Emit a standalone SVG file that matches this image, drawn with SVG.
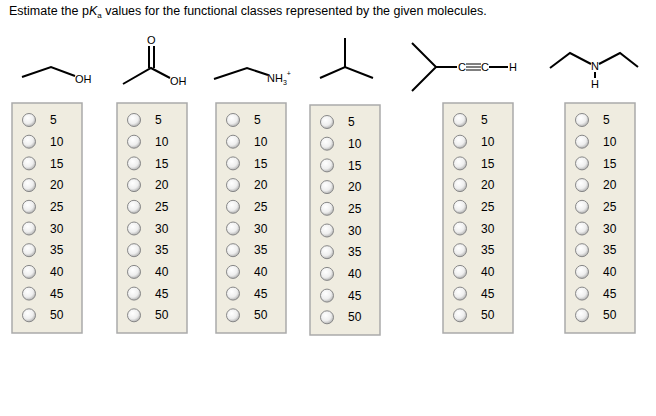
<svg xmlns="http://www.w3.org/2000/svg" width="656" height="416" viewBox="0 0 656 416">
<style>
text{font-family:"Liberation Sans",Arial,sans-serif;fill:#000}
.t{font-size:12px}
.m{font-size:11px}
.b{stroke:#000;stroke-width:2;fill:none}
.box{fill:#efece0;stroke:#aaa;stroke-width:1.5}
.r{fill:url(#rg);stroke:#888;stroke-width:1}
</style>
<defs>
<radialGradient id="rg" cx="0.4" cy="0.35" r="0.7"><stop offset="0" stop-color="#fff"/><stop offset="0.6" stop-color="#eee"/><stop offset="1" stop-color="#aaa"/></radialGradient>
<g id="col">
<rect class="box" x="0" y="0" width="70" height="230"/>
<circle class="r" cx="17" cy="17" r="6.5"/><text class="t" x="38" y="21">5</text>
<circle class="r" cx="17" cy="38.7" r="6.5"/><text class="t" x="38" y="43">10</text>
<circle class="r" cx="17" cy="60.4" r="6.5"/><text class="t" x="38" y="65">15</text>
<circle class="r" cx="17" cy="82.1" r="6.5"/><text class="t" x="38" y="86">20</text>
<circle class="r" cx="17" cy="103.8" r="6.5"/><text class="t" x="38" y="108">25</text>
<circle class="r" cx="17" cy="125.5" r="6.5"/><text class="t" x="38" y="130">30</text>
<circle class="r" cx="17" cy="147.2" r="6.5"/><text class="t" x="38" y="151">35</text>
<circle class="r" cx="17" cy="168.9" r="6.5"/><text class="t" x="38" y="173">40</text>
<circle class="r" cx="17" cy="190.6" r="6.5"/><text class="t" x="38" y="195">45</text>
<circle class="r" cx="17" cy="212.3" r="6.5"/><text class="t" x="38" y="216">50</text>
</g>
</defs>
<text x="9" y="15" style="font-size:12.5px">Estimate the p<tspan font-style="italic">K</tspan><tspan font-size="8" dy="3">a</tspan><tspan dy="-3"> values for the functional classes represented by the given molecules.</tspan></text>
<g id="m1"><polyline class="b" points="22,77 51,67 75,76"/><text class="m" x="75" y="83">OH</text></g>
<g id="m2"><polyline class="b" points="123,84 151,68 170,78"/><line class="b" x1="149" y1="68" x2="149" y2="46"/><line class="b" x1="154" y1="68" x2="154" y2="46"/><text class="m" x="147" y="44">O</text><text class="m" x="170" y="85">OH</text></g>
<g id="m3"><polyline class="b" points="214,79 247,68 268,75"/><text class="m" x="267" y="82">NH<tspan font-size="7" dy="3">3</tspan><tspan font-size="7" dy="-9">+</tspan></text></g>
<g id="m4"><polyline class="b" points="320,78 345,67 373,78"/><line class="b" x1="345" y1="67" x2="345" y2="38"/></g>
<g id="m5"><polyline class="b" points="412,43 436,67 412,91"/><line class="b" x1="436" y1="67" x2="457" y2="67"/><text class="m" x="458" y="71">C</text><line stroke="#000" x1="466" y1="64" x2="481" y2="64"/><line stroke="#000" x1="466" y1="67" x2="481" y2="67"/><line stroke="#000" x1="466" y1="70" x2="481" y2="70"/><text class="m" x="481" y="71">C</text><line class="b" x1="489" y1="67" x2="508" y2="67"/><text class="m" x="509" y="71">H</text></g>
<g id="m6"><polyline class="b" points="550,68 570,53 591,64"/><polyline class="b" points="599,64 620,53 638,67"/><text class="m" x="591" y="70">N</text><line class="b" x1="595" y1="72" x2="595" y2="78"/><text class="m" x="591" y="88">H</text></g>
<g id="c1"><use href="#col" x="12" y="103"/></g>
<g id="c2"><use href="#col" x="117" y="103"/></g>
<g id="c3"><use href="#col" x="216" y="103"/></g>
<g id="c4"><use href="#col" x="310" y="105"/></g>
<g id="c5"><use href="#col" x="443" y="103"/></g>
<g id="c6"><use href="#col" x="565" y="103"/></g>
<g id="connectors"/>
</svg>
